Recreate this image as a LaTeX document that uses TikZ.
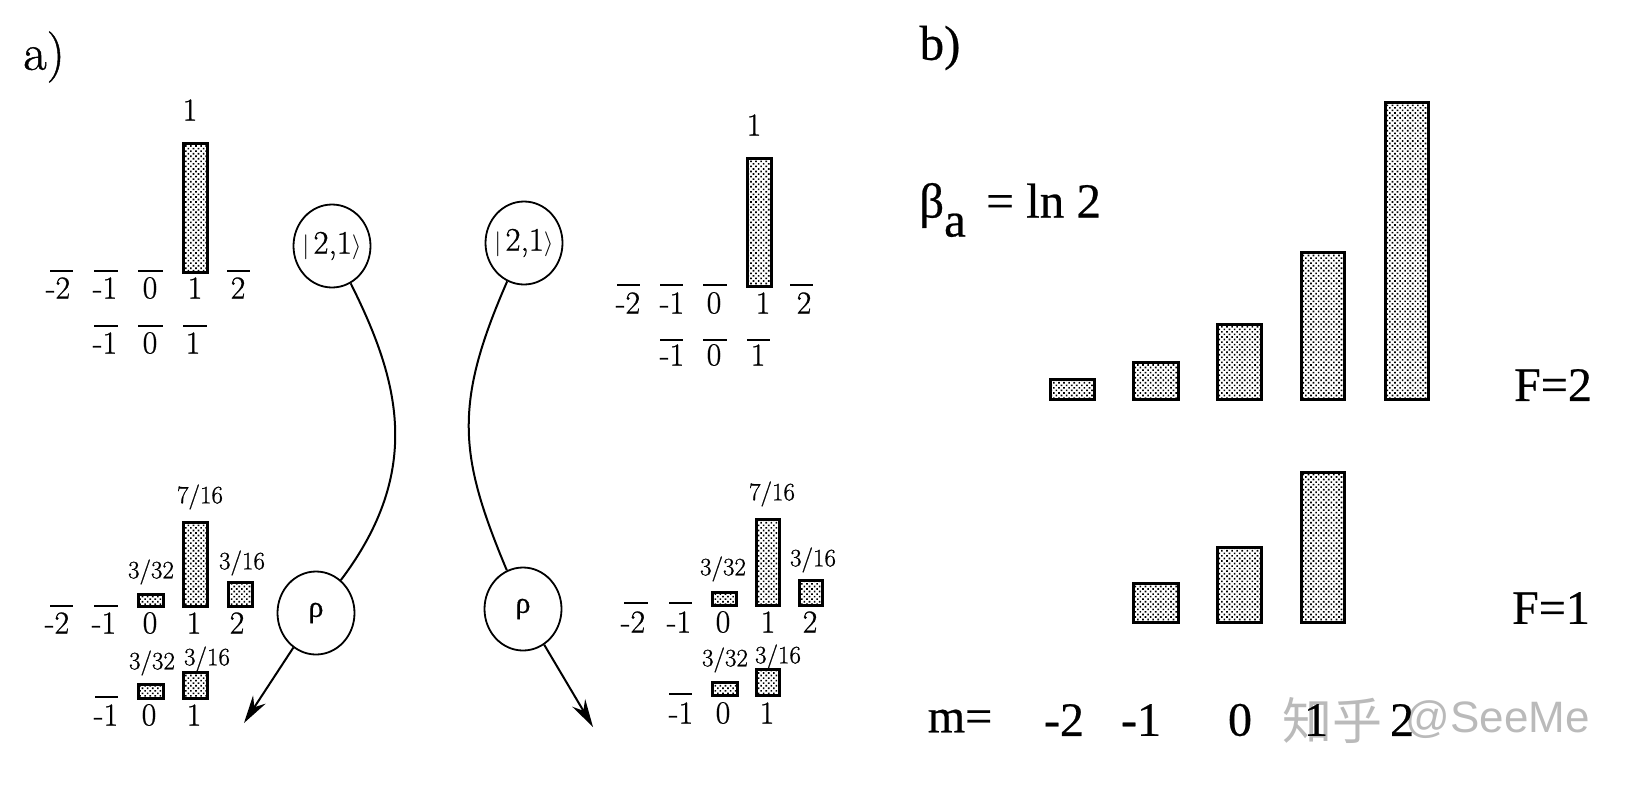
\documentclass[tikz,border=0pt]{standalone}
\usepackage{fontspec}
\usetikzlibrary{arrows.meta}
\usetikzlibrary{patterns.meta}
\usetikzlibrary{shapes.geometric}
\setmainfont{Latin Modern Roman}[FakeBold=0.8]
\newfontfamily\timesfont{Liberation Serif}[FakeBold=0.5]
\newfontfamily\marksans{Liberation Sans}
\newfontfamily\markcjk{Noto Sans CJK SC}
\newcommand{\sizedfont}[1]{\fontsize{#1}{#1}\selectfont}
\begin{document}
\begin{tikzpicture}
[x=1pt,y=-1pt,%
  barDecorate/.style={line width=3pt,pattern={Dots[distance=3.6pt,radius=1.15pt,angle=45]}},%
  levelDecorate/.style={-,line width=1.9pt},%
  curveDecorate/.style={-,line width=2pt},%
  arrowDecorate/.style={-{Stealth[length=28pt,width=15pt]},line width=2pt},%
  stateNode/.style={draw,ellipse,line width=1.8pt,inner sep=0pt,minimum width=77pt,minimum height=83pt},%
  levelText/.style={inner sep=0pt,font=\sizedfont{32}},%
  fracText/.style={inner sep=0pt,font=\sizedfont{25}},%
  bigText/.style={inner sep=0pt,font=\timesfont\sizedfont{48}},%
  markText/.style={inner sep=0pt,text=black!27}]
\useasboundingbox (0,0) rectangle (1629,785);
%% watermark
\node[markText,font=\markcjk\sizedfont{50}] (markA) at (1332,720) {知乎};
\node[markText,font=\marksans\sizedfont{44}] (markB) at (1498,720) {@SeeMe};
%% stippled bars, panel a
\foreach \xl/\xr/\yt/\yb in {
  183/207/143/272, 747/771/158/286,
  138/163/594/606, 183/207/522/606, 228/252/582/606, 138/163/684/698, 183/207/672/698,
  712/736/592/605, 756/779/519/605, 799/822/580/605, 712/737/682/695, 756/779/669/695}
{
  \draw[barDecorate] (\xl,\yt) rectangle (\xr,\yb);
}
%% stippled bars, panel b
\foreach \xl/\xr/\yt/\yb in {
  1050/1094/379/399, 1133/1178/362/399, 1217/1261/324/399, 1301/1344/252/399, 1385/1428/102/399,
  1133/1178/583/622, 1217/1261/547/622, 1301/1344/472/622}
{
  \draw[barDecorate] (\xl,\yt) rectangle (\xr,\yb);
}
%% empty levels
\foreach \xl/\xr/\y in {
  50/73/271, 94/118/271, 138/163/271, 227/250/271, 94/118/326, 138/163/326, 183/207/326,
  50/73/606, 94/118/606, 95/118/697,
  617/640/285, 660/683/285, 703/727/285, 790/813/285, 660/683/340, 703/727/340, 747/770/340,
  624/648/603, 669/692/603, 669/692/694}
{
  \draw[levelDecorate] (\xl,\y) -- (\xr,\y);
}
%% level labels
\foreach \nodename/\code/\x/\y in {
  la/-2/58/288, lb/-1/105/288, lc/0/150/288, ld/1/195/288, le/2/238/288,
  lf/-1/105/343, lg/0/150/343, lh/1/193/343, li/1/190/110,
  ma/-2/57/623, mb/-1/104/623, mc/0/150/623, md/1/194/623, me/2/237/623,
  mf/-1/106/715, mg/0/149/715, mh/1/194/715,
  ra/-2/628/303, rb/-1/672/303, rc/0/714/303, rd/1/763/303, re/2/804/303,
  rf/-1/672/355, rg/0/714/355, rh/1/758/355, ri/1/754/125,
  sa/-2/633/622, sb/-1/679/622, sc/0/723/622, sd/1/768/622, se/2/810/622,
  sf/-1/681/713, sg/0/723/713, sh/1/767/713}
{
  \node[levelText] (\nodename) at (\x,\y) {\code};
}
%% fractions
\foreach \nodename/\code/\x/\y in {
  fa/{7/16}/200/497, fb/{3/32}/151/572, fc/{3/16}/242/563, fd/{3/32}/152/663, fe/{3/16}/207/659,
  ff/{7/16}/772/494, fg/{3/32}/723/569, fh/{3/16}/813/560, fi/{3/32}/725/660, fj/{3/16}/778/657}
{
  \node[fracText] (\nodename) at (\x,\y) {\code};
}
%% states and connectors
\node[stateNode,font=\sizedfont{33}] (ketL) at (332,246) {\makebox[0pt]{$|\,$2,1$\rangle$}};
\node[stateNode,font=\sizedfont{33}] (ketR) at (524,243) {\makebox[0pt]{$|\,$2,1$\rangle$}};
\node[stateNode,font=\timesfont\sizedfont{30}] (rhoL) at (316,613) {ρ};
\node[stateNode,font=\timesfont\sizedfont{30}] (rhoR) at (523,609) {ρ};
\coordinate (endL) at (244,723);
\coordinate (endR) at (593,727);
\draw[curveDecorate] (ketL) .. controls (399,380) and (424,470) .. (rhoL);
\draw[curveDecorate] (ketR) .. controls (453,405) and (459,456) .. (rhoR);
\draw[arrowDecorate] (rhoL) -- (endL);
\draw[arrowDecorate] (rhoR) -- (endR);
%% panel letters and right hand text
\node[inner sep=0pt,font=\sizedfont{51}] (partA) at (44,57) {a)};
\node[bigText,font=\timesfont\sizedfont{49}] (partB) at (940,48) {b)};
\node[bigText,anchor=west,font=\timesfont\sizedfont{49}] (beta) at (919,210) {β\raisebox{-19pt}{a} \,= ln 2};
\foreach \nodename/\code/\x/\y in {
  fTwo/F=2/1553/385, fOne/F=1/1551/608, mEq/m=/960/721, mA/-2/1064/720, mB/-1/1141/720, mC/0/1240/720, mD/1/1316/720, mE/2/1402/720}
{
  \node[bigText] (\nodename) at (\x,\y) {\code};
}
\end{tikzpicture}
\end{document}
